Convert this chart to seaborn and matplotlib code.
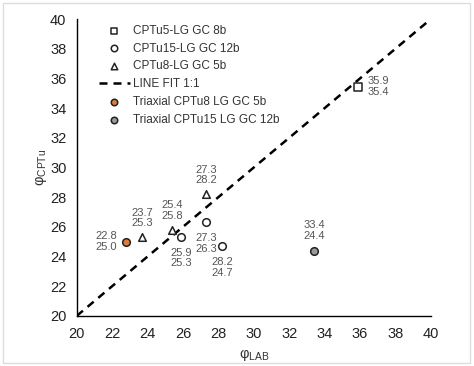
import pandas as pd
import matplotlib
matplotlib.use('Agg')
import matplotlib.pyplot as plt
import seaborn as sns
from matplotlib.ticker import MultipleLocator
from matplotlib.patches import Rectangle

# data (phi_LAB, phi_CPTu)
sq_lab = [35.9]
sq_cptu = [35.4]
circ_lab = [25.9, 27.3, 28.2]
circ_cptu = [25.3, 26.3, 24.7]
tri_lab = [23.7, 25.4, 27.3]
tri_cptu = [25.3, 25.8, 28.2]
tx8_lab = [22.8]
tx8_cptu = [25.0]
tx15_lab = [33.4]
tx15_cptu = [24.4]
fit_line = [20, 40]

series_names = ['CPTu5-LG GC 8b', 'CPTu15-LG GC 12b', 'CPTu8-LG GC 5b',
                'Triaxial CPTu8 LG GC 5b', 'Triaxial CPTu15 LG GC 12b']

sns.set_style('white')
plt.rcParams['font.family'] = ['Liberation Sans', 'DejaVu Sans']
plt.rcParams['mathtext.fontset'] = 'custom'
plt.rcParams['mathtext.rm'] = 'Liberation Sans'

df = pd.concat([
    pd.DataFrame({'lab': sq_lab, 'cptu': sq_cptu, 'series': series_names[0]}),
    pd.DataFrame({'lab': circ_lab, 'cptu': circ_cptu, 'series': series_names[1]}),
    pd.DataFrame({'lab': tri_lab, 'cptu': tri_cptu, 'series': series_names[2]}),
    pd.DataFrame({'lab': tx8_lab, 'cptu': tx8_cptu, 'series': series_names[3]}),
    pd.DataFrame({'lab': tx15_lab, 'cptu': tx15_cptu, 'series': series_names[4]}),
], ignore_index=True)

fig = plt.figure(figsize=(4.74, 3.66), dpi=100)
ax = fig.add_axes([0.162, 0.137, 0.747, 0.811])

styles = {
    series_names[0]: dict(marker='s', color='white'),
    series_names[1]: dict(marker='o', color='white'),
    series_names[2]: dict(marker='^', color='white'),
    series_names[3]: dict(marker='o', color='#e07a3c'),
    series_names[4]: dict(marker='o', color='#9a9a9a'),
}

for i, name in enumerate(series_names):
    sub = df[df['series'] == name]
    st = styles[name]
    sns.scatterplot(data=sub, x='lab', y='cptu', ax=ax, marker=st['marker'],
                    color=st['color'], edgecolor='#222222', linewidth=1.1,
                    s=30, label=name, zorder=3)
    if i == 2:
        ax.plot(fit_line, fit_line, ls=(0, (3.2, 2.4)), color='black', lw=1.8,
                label='LINE FIT 1:1', zorder=2)

# value labels: (ha, va, dx, dy) in points
placement = {
    series_names[0]: [('left', 'center', 6.5, 0.5)],
    series_names[1]: [('center', 'top', 0, -7.5), ('center', 'top', 0, -8),
                      ('center', 'top', 0, -8)],
    series_names[2]: [('center', 'bottom', 0, 6.5), ('center', 'bottom', 0, 6.5),
                      ('center', 'bottom', 0, 6.5)],
    series_names[3]: [('right', 'center', -6.5, 0)],
    series_names[4]: [('center', 'bottom', 0, 7)],
}
for name in series_names:
    sub = df[df['series'] == name].reset_index(drop=True)
    for j, row in sub.iterrows():
        ha, va, dx, dy = placement[name][j]
        ax.annotate(f"{row['lab']:.1f}\n{row['cptu']:.1f}", (row['lab'], row['cptu']),
                    xytext=(dx, dy), textcoords='offset points', ha=ha, va=va,
                    fontsize=8, color='#555555', linespacing=1.05)

ax.set_xlim(20, 40)
ax.set_ylim(20, 40)
ax.xaxis.set_major_locator(MultipleLocator(2))
ax.yaxis.set_major_locator(MultipleLocator(2))
ax.xaxis.set_minor_locator(MultipleLocator(1))
ax.yaxis.set_minor_locator(MultipleLocator(1))
ax.tick_params(which='major', direction='inout', length=8, width=1, colors='black',
               labelsize=10.5, labelcolor='#222222')
ax.tick_params(which='minor', direction='in', length=3, width=1, colors='black')
ax.tick_params(axis='x', which='major', pad=4)
for side in ['top', 'right']:
    ax.spines[side].set_visible(False)
for side in ['left', 'bottom']:
    ax.spines[side].set_color('black')
    ax.spines[side].set_linewidth(1)

ax.set_xlabel(r'φ$_{\mathrm{LAB}}$', fontsize=10.5, color='#333333', labelpad=4)
ax.set_ylabel(r'φ$_{\mathrm{CPTu}}$', fontsize=10.5, color='#333333', labelpad=1)

leg = ax.legend(loc='upper left', bbox_to_anchor=(0.043, 1.005), frameon=False,
                fontsize=8.5, handlelength=2.6, handletextpad=0.3,
                labelspacing=0.5, borderaxespad=0.2, markerscale=0.85)
for t in leg.get_texts():
    t.set_color('#333333')

fig.patches.append(Rectangle((0.006, 0.008), 0.986, 0.984, transform=fig.transFigure,
                             fill=False, edgecolor='#dddddd', lw=1))

fig.savefig('out.png', dpi=100)
